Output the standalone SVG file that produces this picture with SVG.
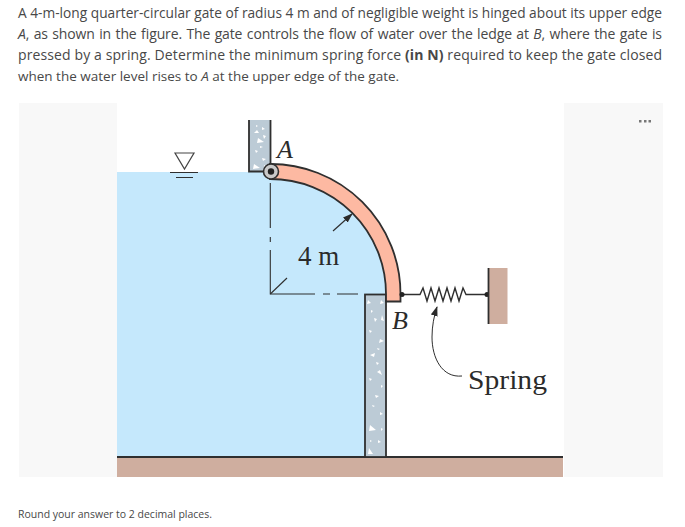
<svg xmlns="http://www.w3.org/2000/svg" width="685" height="527" viewBox="0 0 685 527">
<style>
.t{font-family:"Open Sans",sans-serif;font-size:14px;fill:#484848}
.f{font-family:"Liberation Serif",serif;fill:#2b2b2b}
.l{fill:none;stroke:#2f2f2f}
.stone{fill:#bccbd6;stroke:#2f2f2f;stroke-width:1.800}
.sp{fill:#fff}
</style>
<defs>
<marker id="ah" markerWidth="10" markerHeight="7" refX="9" refY="3.500" orient="auto" markerUnits="userSpaceOnUse"><path d="M0 0L10 3.500L0 7Z" fill="#2b2b2b"/></marker>
</defs>
<rect width="685" height="527" fill="#fff"/>
<g id="question">
<text class="t" x="18" y="18" textLength="644" lengthAdjust="spacingAndGlyphs">A 4-m-long quarter-circular gate of radius 4 m and of negligible weight is hinged about its upper edge</text>
<text class="t" x="18" y="39" textLength="644" lengthAdjust="spacing" word-spacing="1"><tspan font-style="italic">A</tspan>, as shown in the figure. The gate controls the flow of water over the ledge at <tspan font-style="italic">B</tspan>, where the gate is</text>
<text class="t" x="18" y="60" textLength="644" lengthAdjust="spacing">pressed by a spring. Determine the minimum spring force <tspan font-weight="700">(in N)</tspan> required to keep the gate closed</text>
<text class="t" x="18" y="81" style="font-size:13.500px">when the water level rises to <tspan font-style="italic">A</tspan> at the upper edge of the gate.</text>
<text class="t" x="18" y="518" style="font-size:11px" textLength="194" lengthAdjust="spacingAndGlyphs">Round your answer to 2 decimal places.</text>
</g>
<g id="panel">
<rect x="19" y="103" width="644" height="374" fill="#f8f8f8"/>
<rect x="117" y="103" width="447" height="374" fill="#fff"/>
<rect x="639" y="120" width="2.500" height="2.500" fill="#777"/><rect x="644" y="120" width="2.500" height="2.500" fill="#777"/><rect x="648.500" y="120" width="2.500" height="2.500" fill="#777"/>
</g>
<g id="water">
<path d="M117 172H270V294H365V457H117Z" fill="#c5e8fc"/>
<path d="M270 172H272A114 122 0 0 1 386 294H270Z" fill="#c5e8fc"/>
</g>
<g id="ground">
<rect x="117" y="457" width="446" height="20" fill="#cfae9f"/>
<path d="M117 457H563" class="l" stroke-width="1.800"/>
</g>
<g id="upper-wall">
<path d="M249 120V171.500H270.500V120" class="stone"/>
<path d="M254 133l3-3 2 3zM258 138l6 4-7 1zM254 164l6 4-7 1zM262 127l3 2-3 1zM262 158l4 1-3 2zM256 125l2 1-2 1zM263 135l3 1-2 3zM255 150l3 1-2 2zM260 146l3 1-3 1zM264 165l2 1-2 1z" class="sp"/>
</g>
<g id="ledge">
<rect x="365" y="294.500" width="21" height="162.500" class="stone"/>
<path d="M368 300l3 3-4 1zM381 300l3 3-4 1zM374 318l3 1-2 3zM382 315l2 6-3-1zM380 339l4 2-5 2zM370 355l5-2-1 4zM380 370l2 5-5-3zM375 395l4 1-3 2zM370 425l6 5-7 1zM378 440l3 2-3 1zM369 448l4 6-5 0zM371 310l2 1-2 2zM369 330l3 1-2 2zM377 348l3 1-2 1zM369 378l3 1-2 2zM381 385l2 1-2 2zM372 405l3 1-2 1zM380 412l3 2-3 1zM370 440l2 1-2 1zM381 428l2 1-2 2zM376 362l3 1-2 2z" class="sp"/>
</g>
<g id="gate">
<path d="M270 164A130 130 0 0 1 400.500 294V301.500H386V294A116 115 0 0 0 270 179Z" fill="#fdb9a2" stroke="#2f2f2f" stroke-width="1.800"/>
<circle cx="271" cy="171.500" r="7.500" fill="#c9c9c9" stroke="#2f2f2f" stroke-width="1.600"/>
<circle cx="271" cy="171.500" r="3.200" fill="#222"/>
<text class="f" x="277" y="158" font-size="26" font-style="italic">A</text>
</g>
<g id="water-level">
<path d="M175 153H194L184.500 169Z" fill="#fff" stroke="#444" stroke-width="1.200"/>
<path d="M170 172.500H198M176 177.500H193" class="l" stroke-width="1.200"/>
</g>
<g id="connectors">
<path d="M270.300 183V228M270.300 237V242M270.300 250V294H315M323 294H330M337 294H358" class="l" stroke-width="1.100"/>
<path d="M270.300 294L287 278" class="l" stroke-width="1.100"/>
<path d="M333 231L352 214" class="l" stroke-width="1.200" marker-end="url(#ah)"/>
<path d="M401 294.500H420L423 288L427 301L431 288L435 301L439 288L443 301L447 288L451 301L455 288L459 301L463 288L466 294.500H488" class="l" stroke-width="1.400"/>
<circle cx="402" cy="294.500" r="2.500" fill="#222"/>
<circle cx="487" cy="294.500" r="2.500" fill="#222"/>
<path d="M462 376C442 378 432 358 432 337C432 326 434 316 437 307" class="l" stroke-width="1" stroke="#555" marker-end="url(#ah)"/>
</g>
<g id="spring-anchor">
<rect x="489" y="268" width="18.500" height="56" fill="#cfae9f"/>
<path d="M488.500 268V324" class="l" stroke-width="1.800"/>
</g>
<g id="labels">
<text class="f" x="298" y="265" font-size="27">4 m</text>
<text class="f" x="392" y="329" font-size="26" font-style="italic">B</text>
<text class="f" x="468" y="389" font-size="28" textLength="79" lengthAdjust="spacingAndGlyphs">Spring</text>
</g>
</svg>
